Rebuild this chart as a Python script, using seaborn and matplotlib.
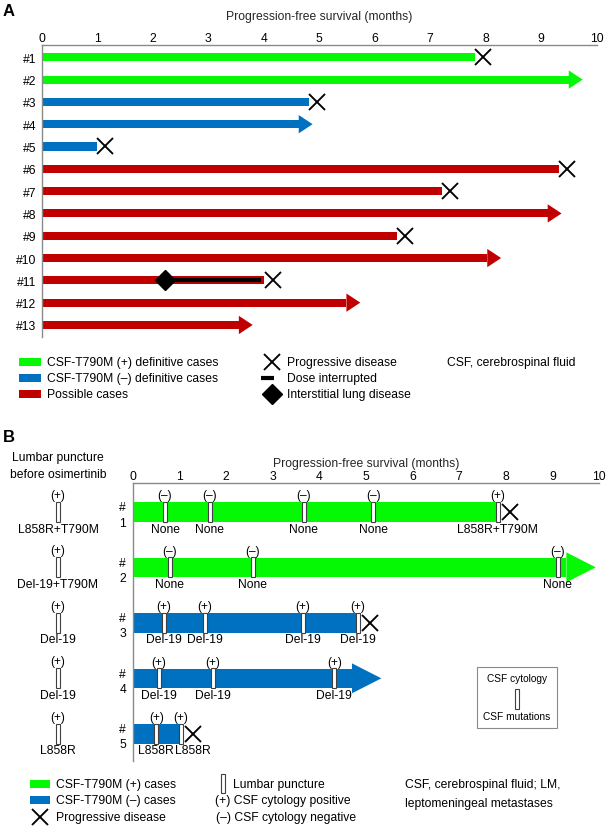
import numpy as np
import pandas as pd
import matplotlib
matplotlib.use("Agg")
import matplotlib.pyplot as plt
from matplotlib.patches import Rectangle
from matplotlib.transforms import blended_transform_factory
import seaborn as sns

# --- panel A : progression-free survival per patient ---
a_patients = ["#1", "#2", "#3", "#4", "#5", "#6", "#7", "#8", "#9", "#10", "#11", "#12", "#13"]
a_group = ["pos", "pos", "neg", "neg", "neg", "possible", "possible", "possible",
           "possible", "possible", "possible", "possible", "possible"]
a_end = [7.80, 9.75, 4.81, 4.88, 0.99, 9.32, 7.21, 9.37, 6.40, 8.28, 4.01, 5.74, 3.80]
a_ongoing = [False, True, False, True, False, False, False, True, False, True, False, True, True]
a_ild_patient = "#11"
a_ild_time = 2.22
a_interrupt_end = 3.95

# --- panel B : lumbar punctures during osimertinib ---
b_patients = ["1", "2", "3", "4", "5"]
b_group = ["pos", "pos", "neg", "neg", "neg"]
b_end = [7.85, 9.93, 4.83, 5.33, 1.03]
b_ongoing = [False, True, False, True, False]
b_base_cyto = ["(+)", "(+)", "(+)", "(+)", "(+)"]
b_base_mut = ["L858R+T790M", "Del-19+T790M", "Del-19", "Del-19", "L858R"]
b_lp_time = [[0.69, 1.65, 3.67, 5.16, 7.83],
             [0.79, 2.57, 9.12],
             [0.66, 1.55, 3.64, 4.83],
             [0.55, 1.71, 4.32],
             [0.50, 1.03]]
b_lp_cyto = [["(–)", "(–)", "(–)", "(–)", "(+)"],
             ["(–)", "(–)", "(–)"],
             ["(+)", "(+)", "(+)", "(+)"],
             ["(+)", "(+)", "(+)"],
             ["(+)", "(+)"]]
b_lp_mut = [["None", "None", "None", "None", "L858R+T790M"],
            ["None", "None", "None"],
            ["Del-19", "Del-19", "Del-19", "Del-19"],
            ["Del-19", "Del-19", "Del-19"],
            ["L858R", "L858R"]]

palette = {"pos": "#05f905", "neg": "#0070c0", "possible": "#c00000"}
FS = 8.7
CS = 8.6
SPINE = "#8a8a8a"
XMS, XMW = 11, 1.35

sns.set_theme(style="white")
plt.rcParams["font.family"] = ["Liberation Sans", "DejaVu Sans"]
plt.rcParams["text.color"] = "black"
plt.rcParams["xtick.color"] = "black"
plt.rcParams["ytick.color"] = "black"

W, H = 606, 828
fig = plt.figure(figsize=(W / 100, H / 100), dpi=100, facecolor="white")


def frame(left, right, top, bottom):
    return [left / W, 1 - bottom / H, (right - left) / W, (bottom - top) / H]


def style_axis(ax, xlabel, labelpad):
    for side in ["right", "bottom"]:
        ax.spines[side].set_visible(False)
    for side in ["top", "left"]:
        ax.spines[side].set_visible(True)
        ax.spines[side].set_color(SPINE)
        ax.spines[side].set_linewidth(1.0)
    ax.xaxis.tick_top()
    ax.xaxis.set_label_position("top")
    ax.set_xlim(0, 10)
    ax.set_xticks(range(0, 11))
    ax.tick_params(length=0, labelsize=FS)
    ax.tick_params(axis="x", pad=0.8)
    ax.set_xlabel(xlabel, fontsize=FS, labelpad=labelpad)
    ax.set_ylabel("")


def arrow_head(ax, x0, y, length, height, color):
    ax.fill([x0, x0 + length, x0], [y - height / 2, y, y + height / 2],
            color=color, lw=0, zorder=2)


# ================= panel A =================
axA = fig.add_axes(frame(42, 596.5, 46, 338))
head_a = 0.25
dfA = pd.DataFrame({"patient": a_patients, "group": a_group, "end": a_end,
                    "ongoing": a_ongoing})
dfA["body"] = np.where(dfA["ongoing"], dfA["end"] - head_a, dfA["end"])
sns.barplot(data=dfA, x="body", y="patient", hue="group", palette=palette,
            orient="h", dodge=False, width=0.36, saturation=1, linewidth=0,
            errorbar=None, legend=False, ax=axA)
for i, row in dfA.iterrows():
    col = palette[row["group"]]
    if row["ongoing"]:
        arrow_head(axA, row["body"], i, head_a, 0.82, col)
    else:
        axA.plot(row["end"] + 0.15, i, marker="x", ms=XMS, mew=XMW, color="black",
                 clip_on=False, zorder=4)
ild_row = a_patients.index(a_ild_patient)
axA.plot([a_ild_time, a_interrupt_end], [ild_row, ild_row], color="black", lw=3,
         solid_capstyle="butt", zorder=3)
axA.plot(a_ild_time, ild_row, marker="D", ms=10, color="black", zorder=4)
axA.set_ylim(12.54, -0.55)
style_axis(axA, "Progression-free survival (months)", 9)
axA.tick_params(axis="y", pad=4)

# ================= panel B =================
axB = fig.add_axes(frame(132.9, 599, 484, 762))
head_b = 0.63
dfB = pd.DataFrame({"patient": b_patients, "group": b_group, "end": b_end,
                    "ongoing": b_ongoing})
dfB["body"] = np.where(dfB["ongoing"], dfB["end"] - head_b, dfB["end"])
sns.barplot(data=dfB, x="body", y="patient", hue="group", palette=palette,
            orient="h", dodge=False, width=0.35, saturation=1, linewidth=0,
            errorbar=None, legend=False, ax=axB)
lp_w, lp_h = 0.085, 0.36
for i, row in dfB.iterrows():
    col = palette[row["group"]]
    if row["ongoing"]:
        arrow_head(axB, row["body"], i, head_b, 0.54, col)
    else:
        axB.plot(row["end"] + 0.25, i, marker="x", ms=XMS, mew=XMW, color="black",
                 clip_on=False, zorder=4)
    times = b_lp_time[i]
    for k, t in enumerate(times):
        axB.add_patch(Rectangle((t - lp_w / 2, i - lp_h / 2), lp_w, lp_h,
                                facecolor="white", edgecolor="#404040", lw=0.8, zorder=3))
        axB.text(t, i - 0.30, b_lp_cyto[i][k], ha="center", va="center", fontsize=CS)
        tx = t
        # keep the two close labels of patient 5 apart
        if k > 0 and t - times[k - 1] < 0.7:
            tx = times[k - 1] + 0.78
        axB.text(tx, i + 0.30, b_lp_mut[i][k], ha="center", va="center", fontsize=FS)
axB.set_ylim(4.49, -0.52)
style_axis(axB, "Progression-free survival (months)", 3)
axB.set_yticks(range(len(b_patients)))
axB.set_yticklabels(["#\n" + p for p in b_patients], linespacing=1.35,
                    multialignment="center")
axB.tick_params(axis="y", pad=5)

# ================= overlay in pixels: labels, legends =================
ov = fig.add_axes([0, 0, 1, 1], facecolor="none")
ov.set_xlim(0, W)
ov.set_ylim(H, 0)
ov.axis("off")

ov.text(3, 11, "A", fontsize=12, fontweight="bold", va="center", ha="left")
ov.text(3, 438, "B", fontsize=12, fontweight="bold", va="center", ha="left")

# baseline puncture column of panel B
ov.text(58, 458, "Lumbar puncture", ha="center", va="center", fontsize=FS)
ov.text(58, 475, "before osimertinib", ha="center", va="center", fontsize=FS)
tb = blended_transform_factory(ov.transData, axB.transData)
for i in range(len(b_patients)):
    ov.text(58, i - 0.31, b_base_cyto[i], ha="center", va="center", fontsize=CS,
            transform=tb)
    ov.add_patch(Rectangle((56, i - 0.18), 4, 0.36, facecolor="white",
                           edgecolor="#404040", lw=0.8, transform=tb))
    ov.text(58, i + 0.30, b_base_mut[i], ha="center", va="center", fontsize=FS,
            transform=tb)

# legend A
leg_a = [("pos", "CSF-T790M (+) definitive cases"),
         ("neg", "CSF-T790M (–) definitive cases"),
         ("possible", "Possible cases")]
for (g, lab), y in zip(leg_a, [362.7, 379, 395]):
    ov.add_patch(Rectangle((19.4, y - 4), 21.4, 8, facecolor=palette[g], lw=0))
    ov.text(46.6, y, lab, va="center", ha="left", fontsize=FS)
ov.plot(272, 362.7, marker="x", ms=XMS, mew=XMW, color="black")
ov.text(286.7, 362.7, "Progressive disease", va="center", fontsize=FS)
ov.plot([260.5, 273.5], [379, 379], color="black", lw=3, solid_capstyle="butt")
ov.text(286.7, 379, "Dose interrupted", va="center", fontsize=FS)
ov.plot(272, 395, marker="D", ms=10, color="black")
ov.text(286.7, 395, "Interstitial lung disease", va="center", fontsize=FS)
ov.text(446.8, 362.7, "CSF, cerebrospinal fluid", va="center", fontsize=FS)

# legend box in panel B
ov.add_patch(Rectangle((477, 668), 80, 61, facecolor="white", edgecolor=SPINE, lw=0.8))
ov.text(517, 679.5, "CSF cytology", ha="center", va="center", fontsize=7.3)
ov.add_patch(Rectangle((515, 690), 4, 20, facecolor="white", edgecolor="#404040", lw=0.8))
ov.text(517, 717.5, "CSF mutations", ha="center", va="center", fontsize=7.3)

# legend B
leg_b = [("pos", "CSF-T790M (+) cases"), ("neg", "CSF-T790M (–) cases")]
for (g, lab), y in zip(leg_b, [785, 801]):
    ov.add_patch(Rectangle((30.3, y - 4), 19.4, 8, facecolor=palette[g], lw=0))
    ov.text(56.3, y, lab, va="center", fontsize=FS)
ov.plot(40, 818, marker="x", ms=XMS, mew=XMW, color="black")
ov.text(56.3, 818, "Progressive disease", va="center", fontsize=FS)
ov.add_patch(Rectangle((220.6, 775.5), 4, 19, facecolor="white", edgecolor="#404040", lw=0.8))
ov.text(233, 785, "Lumbar puncture", va="center", fontsize=FS)
ov.text(214.8, 801.5, "(+) CSF cytology positive", va="center", fontsize=FS)
ov.text(216.4, 818.5, "(–) CSF cytology negative", va="center", fontsize=FS)
ov.text(405.2, 785, "CSF, cerebrospinal fluid; LM,", va="center", fontsize=FS)
ov.text(405.2, 804.3, "leptomeningeal metastases", va="center", fontsize=FS)

fig.savefig("out.png", dpi=100, facecolor="white")
